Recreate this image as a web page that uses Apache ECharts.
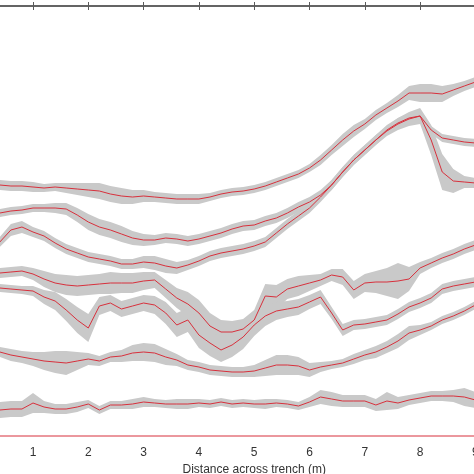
<!DOCTYPE html>
<html>
<head>
<meta charset="utf-8">
<script src="https://cdn.jsdelivr.net/npm/echarts@6/dist/echarts.min.js"></script>
<style>
html,body{margin:0;padding:0;background:#fff;}
#chart{width:474px;height:474px;}
</style>
</head>
<body>
<div id="chart"></div>
<script>
// distance across trench (m), common sampling of all profiles
var xs = [0.4,0.6,0.8,1.0,1.2,1.4,1.6,1.8,2.0,2.2,2.4,2.6,2.8,3.0,3.2,3.4,3.6,3.8,4.0,4.2,4.4,4.6,4.8,5.0,5.2,5.4,5.6,5.8,6.0,6.2,6.4,6.6,6.8,7.0,7.2,7.4,7.6,7.8,8.0,8.2,8.4,8.6,8.8,9.0];
var xTicks = [1,2,3,4,5,6,7,8,9];

// depth of each traced horizon (red line), top of plot = 0
var line1Depth = [179,180,180,181,182,181,182,183,184,185,188,190,191,190,191,192,193,193,193,191,188,186,185,183,180,176,172,168,162,154,144,134,125,118,109,102,95,87,87,87,88,84,80,76];
var line2Depth = [207,205,204,202,202,202,203,209,216,221,224,228,232,234,234,232,233,235,233,230,227,223,220,219,215,212,207,201,196,189,179,166,154,144,134,124,117,112,110,124,132,134,136,137];
var line3Depth = [236,224,221,226,230,237,243,247,251,253,255,258,258,256,257,260,262,259,255,250,247,245,243,240,236,227,218,210,202,191,179,166,154,144,134,125,118,113,110,134,166,175,176,177];
var line4Depth = [267,266,265,268,273,277,279,280,279,278,277,277,277,275,274,283,292,298,307,320,326,326,323,314,290,291,283,280,277,274,269,271,284,277,276,276,275,273,262,257,252,248,243,239];
var line5Depth = [282,283,284,285,291,295,304,314,322,300,297,303,300,297,299,307,319,314,329,337,344,339,331,319,310,305,303,301,296,291,307,324,319,318,316,314,308,301,297,292,283,280,278,276];
var line6Depth = [346,349,351,353,355,356,357,355,353,355,351,350,347,346,347,351,354,359,361,364,365,366,366,365,362,359,359,360,364,361,359,357,353,349,346,341,335,327,324,320,314,310,305,299];
var line7Depth = [404,403,403,397,401,403,403,401,398,404,399,399,398,396,397,398,398,398,397,398,396,398,397,398,398,397,398,400,396,391,393,395,395,395,399,395,397,394,392,390,390,390,391,394];
var baseDepth = 430;

// half width of the grey spread around each horizon
var line1Spread = [5,5,5,5,4,4,5,6,7,8,8,8,7,6,5,5,5,5,5,4,4,4,4,4,4,4,4,4,4,5,5,6,6,5,5,5,6,7,9,9,8,6,5,5];
var line2Spread = [4,4,4,4,4,5,6,7,8,8,8,8,7,6,5,5,5,5,5,5,5,5,5,5,5,5,5,5,5,5,5,5,5,5,5,5,5,5,6,4,4,4,4,4];
var line3Spread = [5,6,6,5,5,5,5,5,5,5,5,5,5,6,7,7,6,5,5,5,5,5,5,5,5,5,5,5,5,5,5,5,5,5,5,5,6,7,8,15,18,12,6,5];
var line4Spread = [5,5,5,6,8,9,10,10,10,10,11,10,10,9,8,9,10,12,13,13,12,11,10,10,12,12,10,10,8,6,6,8,9,9,11,14,18,12,6,5,5,5,5,5];
var line5Spread = [4,4,4,5,7,9,11,13,14,9,8,8,8,8,9,11,12,12,13,13,12,12,12,11,10,9,8,8,7,7,6,6,5,5,5,5,5,5,5,5,5,5,5,5];
var line6Spread = [5,6,6,7,9,11,12,9,6,5,5,6,8,9,9,8,6,5,5,5,5,5,5,6,8,10,10,9,7,5,4,4,5,5,6,6,7,7,5,4,4,4,4,4];
var line7Spread = [8,8,8,10,6,5,5,5,4,4,4,4,5,5,4,4,5,5,4,4,4,4,4,4,5,4,4,4,5,7,7,6,6,6,6,9,6,5,5,5,5,6,9,8];

var profiles = [
    {depth: line1Depth, spread: line1Spread},
    {depth: line2Depth, spread: line2Spread},
    {depth: line3Depth, spread: line3Spread},
    {depth: line4Depth, spread: line4Spread},
    {depth: line5Depth, spread: line5Spread},
    {depth: line6Depth, spread: line6Spread},
    {depth: line7Depth, spread: line7Spread}
];

var red = '#d7303c';
var band = '#c9c9c9';
var axisColor = '#5a5a5a';
var font = 'Liberation Sans, Arial, sans-serif';

var series = [];
//grey bands: one polygon per horizon, depth +- spread
series.push({
    type: 'custom',
    silent: true,
    z: 1,
    data: profiles.map(function(p, i) { return [xs[0], p.depth[0], i]; }),
    renderItem: function(params, api) {
        var p = profiles[api.value(2)];
        var pts = [];
        for (var k = 0; k < xs.length; k++) {
            pts.push(api.coord([xs[k], p.depth[k] - p.spread[k]]));
        }
        for (var k = xs.length - 1; k >= 0; k--) {
            pts.push(api.coord([xs[k], p.depth[k] + p.spread[k]]));
        }
        return {
            type: 'polygon',
            shape: {points: pts},
            style: {fill: band, stroke: 'none', lineWidth: 0}
        };
    }
});
//red lines on top
profiles.forEach(function(p) {
    series.push({
        type: 'line',
        symbol: 'none',
        z: 3,
        color: red,
        lineStyle: {color: red, width: 1},
        data: xs.map(function(x, k) { return [x, p.depth[k]]; })
    });
});
series.push({
    type: 'line',
    symbol: 'none',
    z: 3,
    color: red,
    lineStyle: {color: red, width: 1},
    data: [[0, baseDepth], [10, baseDepth]]
});

var option = {
    animation: false,
    backgroundColor: '#fff',
    grid: {left: -22.3, top: 6, width: 553, height: 435, outerBoundsMode: 'none', containLabel: false},
    xAxis: [{
        type: 'value',
        position: 'bottom',
        min: 0,
        max: 10,
        interval: 1,
        name: 'Distance across trench (m)',
        nameLocation: 'middle',
        nameGap: 19,
        nameTextStyle: {color: '#333', fontSize: 12, fontFamily: font},
        axisLine: {show: true, lineStyle: {color: axisColor, width: 1.5}},
        axisTick: {show: true, inside: true, length: 4, lineStyle: {color: axisColor}},
        axisLabel: {
            color: '#333', fontSize: 12, fontFamily: font, margin: 6,
            formatter: function(v) { return xTicks.indexOf(v) >= 0 ? String(v) : ''; }
        },
        splitLine: {show: false}
    }, {
        type: 'value',
        position: 'top',
        min: 0,
        max: 10,
        interval: 1,
        axisLine: {show: true, lineStyle: {color: axisColor, width: 1.5}},
        axisTick: {show: true, inside: true, length: 4, lineStyle: {color: axisColor}},
        axisLabel: {show: false},
        splitLine: {show: false}
    }],
    yAxis: {
        type: 'value',
        inverse: true,
        min: 0,
        max: 435,
        show: false,
        splitLine: {show: false}
    },
    series: series
};

var chart = echarts.init(document.getElementById('chart'));
chart.setOption(option);
</script>
</body>
</html>
